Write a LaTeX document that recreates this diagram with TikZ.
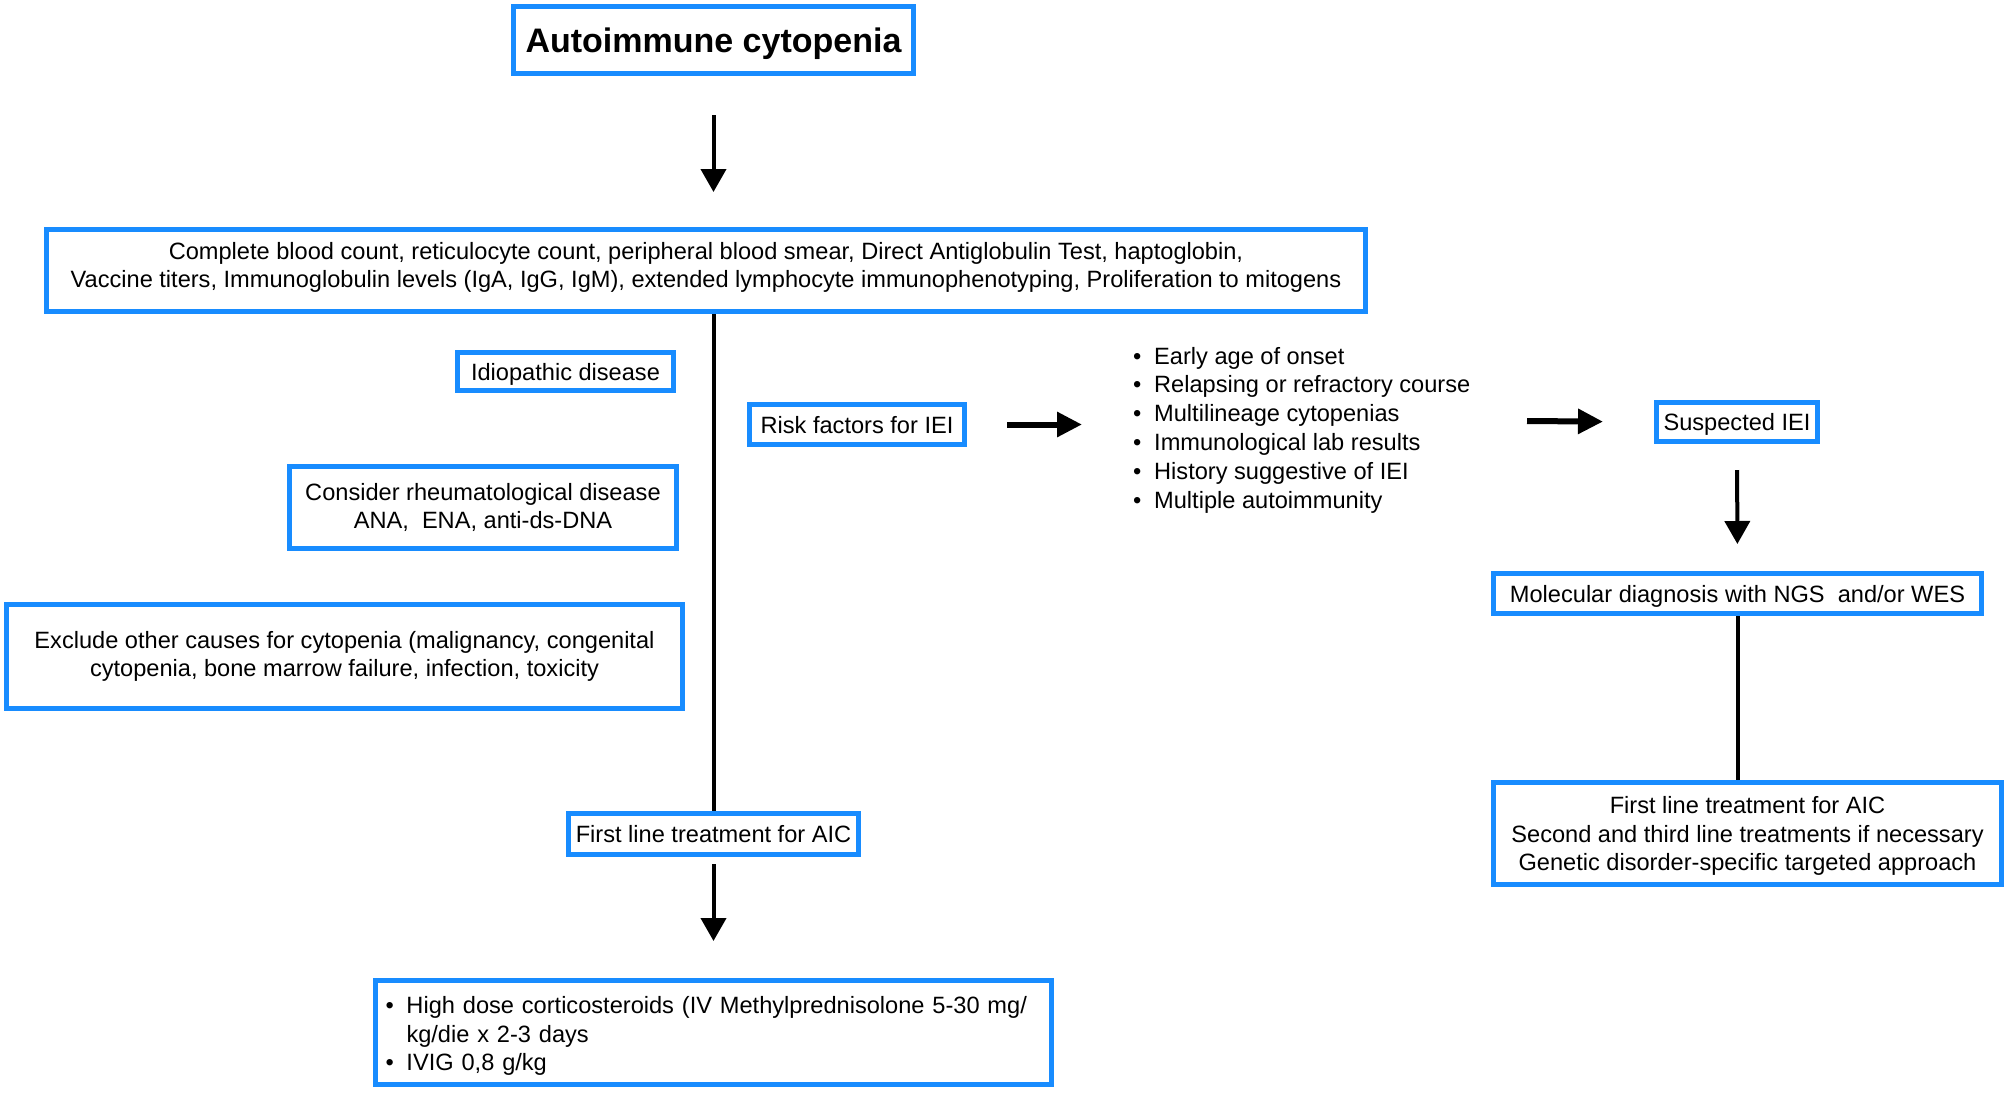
\documentclass[tikz,border=0pt]{standalone}
\usepackage{fontspec}
\setmainfont{Liberation Sans}
\usetikzlibrary{arrows.meta,calc}
\definecolor{boxblue}{RGB}{24,140,255}
\tikzset{
  box/.style={draw=boxblue, line width=5pt, inner sep=0pt, align=center,
    font=\fontsize{23.6}{28.7}\selectfont, text=black},
  lowbox/.style={box, text depth=0pt},
  varrow/.style={line width=4pt, -{Triangle[length=23pt,width=25pt]}},
  harrow/.style={line width=6pt, -{Triangle[length=25pt,width=24pt]}},
  plainline/.style={line width=4pt},
  listtext/.style={inner sep=0pt, align=left, font=\fontsize{23.6}{28.8}\selectfont}
}
\newcommand{\bul}{\makebox[21pt][l]{\textbullet}}
\begin{document}
\begin{tikzpicture}[x=1pt,y=-1pt]
\useasboundingbox (0,0) rectangle (2008,1093);
% boxes
\node[lowbox, minimum width=400pt, minimum height=67pt, font=\fontsize{34}{40}\selectfont\bfseries] (title) at (713.5,40) {Autoimmune cytopenia};
\node[box, text depth=11pt, minimum width=1319pt, minimum height=82pt] (tests) at (706,270.5) {Complete blood count, reticulocyte count, peripheral blood smear, Direct Antiglobulin Test, haptoglobin,\\Vaccine titers, Immunoglobulin levels (IgA, IgG, IgM), extended lymphocyte immunophenotyping, Proliferation to mitogens};
\node[lowbox, minimum width=216pt, minimum height=38pt] (idio) at (565.5,371.5) {Idiopathic disease};
\node[box, minimum width=387pt, minimum height=82pt] (rheum) at (483,507.5) {Consider rheumatological disease\\ANA,\ \ ENA, anti-ds-DNA};
\node[box, minimum width=676pt, minimum height=104pt] (excl) at (344.5,656.5) {Exclude other causes for cytopenia (malignancy, congenital\\cytopenia, bone marrow failure, infection, toxicity};
\node[lowbox, minimum width=215pt, minimum height=40pt] (risk) at (857,424.5) {Risk factors for IEI};
\node[listtext, anchor=west] (list) at (1133,430) {\bul Early age of onset\\\bul Relapsing or refractory course\\\bul Multilineage cytopenias\\\bul Immunological lab results\\\bul History suggestive of IEI\\\bul Multiple autoimmunity};
\node[lowbox, minimum width=161pt, minimum height=39pt] (susp) at (1737,422) {Suspected IEI};
\node[lowbox, minimum width=488pt, minimum height=40pt] (mol) at (1737.5,593.5) {Molecular diagnosis with NGS\ \ and/or WES};
\node[lowbox, minimum width=508pt, minimum height=102pt] (rb) at (1747.5,833.5) {First line treatment for AIC\\Second and third line treatments if necessary\\Genetic disorder-specific targeted approach};
\node[lowbox, minimum width=290pt, minimum height=41pt] (first) at (713.5,834) {First line treatment for AIC};
\node[box, text height=24pt, minimum width=676pt, minimum height=104pt, align=left, text width=656pt] (bot) at (713.5,1032.5) {\bul High dose corticosteroids (IV Methylprednisolone 5-30 mg/\\\makebox[21pt]{}kg/die x 2-3 days\\\bul IVIG 0,8 g/kg};
% connectors
\draw[varrow, shorten <=39pt, shorten >=35pt] (title.south) -- (title.south |- tests.north);
\draw[plainline] (first.north |- tests.south) -- (first.north);
\draw[varrow, shorten <=7pt, shorten >=37pt] (first.south) -- (bot.north);
\draw[harrow, shorten <=40pt, shorten >=51pt] (risk.east) -- (risk.east -| list.west);
\coordinate (a2) at (1527,421);
\draw[harrow, shorten >=51pt] (a2) -- (susp.west);
\draw[varrow, shorten <=26pt, shorten >=27pt] (susp.south) -- (mol.north);
\draw[plainline] (mol.south) -- (mol.south |- rb.north);
\end{tikzpicture}
\end{document}
